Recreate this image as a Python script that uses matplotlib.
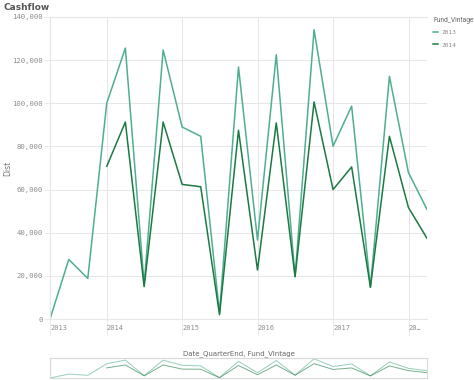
import numpy as np
import pandas as pd
import matplotlib
matplotlib.use("Agg")
import matplotlib.pyplot as plt
import matplotlib.dates as mdates
import matplotlib.transforms as mtransforms

# quarter-end dates and cashflow values per fund vintage
quarters = pd.date_range("2013-03-31", periods=21, freq="QE")
dist_2013 = [0, 27600, 18800, 100100, 125600, 16000, 124700, 89000, 84700, 2800,
             116800, 36600, 122500, 19600, 134100, 80100, 98700, 14700, 112500, 67900, 50800]
dist_2014 = [np.nan, np.nan, np.nan, 70800, 91300, 15000, 91300, 62400, 61300, 2000,
             87500, 22700, 90900, 19600, 100600, 60000, 70500, 14700, 84700, 51700, 37400]
series_names = ["2013", "2014"]
colors = ["#4fae91", "#1b7a42"]
year_ticks = ["2013", "2014", "2015", "2016", "2017", "20\u2026"]
y_ticks = np.arange(0, 140001, 20000)

grid_c = "#e6e6e6"
lab_c = "#8c8c8c"
mono = "DejaVu Sans Mono"

fig = plt.figure(figsize=(4.74, 3.80), dpi=100)
ax = fig.add_axes([50/474, 1-319/380, 377/474, 302/380])

for vals, c, name in zip([dist_2013, dist_2014], colors, series_names):
    ax.plot(quarters, vals, color=c, lw=1.1, label=name)

xmin = mdates.date2num(quarters[0])
xmax = mdates.date2num(quarters[-1])
ax.set_xlim(xmin, xmax)
ax.set_ylim(0, 140000)

tick_pos = [xmin] + [mdates.date2num(pd.Timestamp(f"{y}-01-01")) for y in range(2014, 2019)]
ax.set_xticks(tick_pos)
ax.set_xticklabels(year_ticks, fontsize=5, family=mono, color=lab_c, ha="left")
offset = mtransforms.ScaledTranslation(2/100, 0, fig.dpi_scale_trans)
for lab in ax.get_xticklabels():
    lab.set_transform(lab.get_transform() + offset)
ax.tick_params(axis="x", length=12, width=0.6, color=grid_c, pad=-8)

ax.set_yticks(y_ticks)
ax.set_yticklabels([f"{v:,}" for v in y_ticks], fontsize=5.2, family=mono, color=lab_c)
ax.tick_params(axis="y", length=4, width=0.6, color=grid_c, pad=1)

ax.grid(True, color=grid_c, lw=0.7)
ax.set_axisbelow(True)
ax.spines["right"].set_visible(False)
for s in ["left", "bottom", "top"]:
    ax.spines[s].set_color(grid_c)
    ax.spines[s].set_linewidth(0.8)

fig.text(8/474, 1-168/380, "Dist", fontsize=5.5, color="#777777",
         rotation=90, ha="center", va="center")

fig.text(3/474, 1-8/380, "Cashflow", fontsize=6.5, fontweight="bold",
         color="#555555", va="center", ha="left")

# legend: title drawn as text so it fits in the narrow right margin
fig.text(433/474, 1-21/380, "Fund_Vintage", fontsize=4.8, family="Roboto",
         color="#666666", ha="left", va="center")
leg = ax.legend(loc="upper left", bbox_to_anchor=(433/474, 1-30/380),
                bbox_transform=fig.transFigure, frameon=False,
                fontsize=4.5, handlelength=0.8, handletextpad=0.6,
                labelspacing=1.1, borderaxespad=0, borderpad=0)
for t in leg.get_texts():
    t.set_family(mono)
    t.set_color(lab_c)

# overview mini chart
mini = fig.add_axes([50/474, 2/380, 377/474, 20/380])
for vals, c in zip([dist_2013, dist_2014], colors):
    mini.plot(quarters, vals, color=c, lw=0.7, alpha=0.6)
mini.set_xlim(xmin, xmax)
mini.set_ylim(0, 140000)
mini.set_xticks([])
mini.set_yticks([])
for s in mini.spines.values():
    s.set_color("#d8d8d8")
    s.set_linewidth(0.8)
fig.text((50 + 377/2)/474, 1-354/380, "Date_QuarterEnd, Fund_Vintage",
         fontsize=5, color="#666666", ha="center", va="center")

fig.savefig("out.png", dpi=100)
